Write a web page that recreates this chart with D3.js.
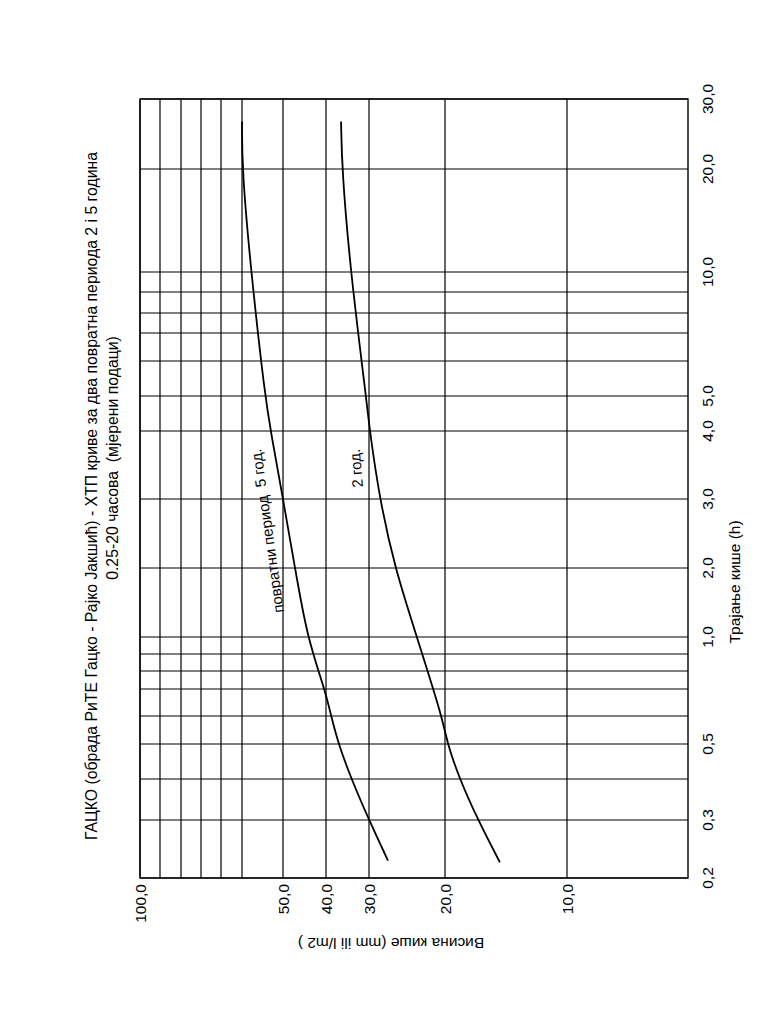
<!DOCTYPE html>
<html>
<head>
<meta charset="utf-8">
<script src="https://cdn.jsdelivr.net/npm/d3@7"></script>
<style>
  body { margin: 0; background: #fff; }
  text { font-family: "Liberation Sans", Arial, sans-serif; fill: #000; white-space: pre; }
</style>
</head>
<body>
<svg id="chart" width="768" height="1024"></svg>
<script>
// duration (h) and rain height (mm)
var durGrid = [0.2, 0.3, 0.4, 0.5, 0.6, 0.7, 0.8, 0.9, 1, 2, 3, 4, 5, 6, 7, 8, 9, 10, 20, 30];
var durTicks = [0.2, 0.3, 0.5, 1, 2, 3, 4, 5, 10, 20, 30];
var hGrid = [100, 90, 80, 70, 60, 55, 50, 40, 30, 20, 10];
var hTicks = [100, 50, 40, 30, 20, 10];

var dur5 = [0.23, 0.3, 0.4, 0.5, 0.6, 0.7, 1, 2, 3, 4, 5, 10, 20, 26.8];
var h5 = [27.5, 30, 34.1, 37.1, 38.8, 40.3, 44.4, 47.2, 50, 51.5, 52.2, 53.9, 55, 55];
var dur2 = [0.227, 0.3, 0.4, 0.5, 0.6, 1, 2, 3, 4, 5, 10, 20, 26.8];
var h2 = [15.5, 17.3, 18.8, 19.8, 20.4, 23.7, 26.6, 28.6, 29.9, 30.7, 34.3, 36.3, 36.5];

var svg = d3.select('#chart');
var fmt = function(v) { return d3.format('.1f')(v).replace('.', ','); };

// the sheet is printed sideways: duration runs up the page, height runs right-to-left
var yDur = d3.scaleLinear()
  .domain([0.2, 0.3, 0.4, 0.5, 0.6, 0.7, 0.8, 0.9, 1, 2, 3, 4, 5, 6, 7, 8, 9, 10, 20, 30])
  .range([878, 820, 779, 744, 716, 689, 671, 654, 637, 568, 499, 431, 396, 361, 333, 313, 292, 272, 169, 99]);
var xH = d3.scaleLinear()
  .domain([5, 10, 20, 30, 40, 50, 55, 60, 70, 80, 90, 100])
  .range([688, 567, 445, 369, 326, 283, 242, 221, 201, 181, 160, 140]);

var x0 = xH(100), x1 = xH(5), y0 = yDur(30), y1 = yDur(0.2);

svg.append('g').selectAll('line.h').data(durGrid).join('line')
  .attr('x1', x0).attr('x2', x1)
  .attr('y1', d => yDur(d)).attr('y2', d => yDur(d))
  .attr('stroke', '#000').attr('stroke-width', 1.2);
svg.append('g').selectAll('line.v').data(hGrid).join('line')
  .attr('y1', y0).attr('y2', y1)
  .attr('x1', d => xH(d)).attr('x2', d => xH(d))
  .attr('stroke', '#000').attr('stroke-width', 1.2);
svg.append('rect').attr('x', x0).attr('y', y0).attr('width', x1 - x0).attr('height', y1 - y0)
  .attr('fill', 'none').attr('stroke', '#000').attr('stroke-width', 1.4);

var line = d3.line().curve(d3.curveBasis);
function drawCurve(ds, hs) {
  svg.append('path')
    .attr('d', line(ds.map((d, i) => [xH(hs[i]), yDur(d)])))
    .attr('fill', 'none').attr('stroke', '#000').attr('stroke-width', 1.8);
}
drawCurve(dur5, h5);
drawCurve(dur2, h2);

function vtext(x, y, s, size, anchor, rot) {
  return svg.append('text')
    .attr('transform', 'translate(' + x + ',' + y + ') rotate(' + (rot === undefined ? -90 : rot) + ')')
    .attr('text-anchor', anchor || 'middle')
    .style('font-size', size + 'px').text(s);
}

// duration tick labels
durTicks.forEach(d => vtext(713, yDur(d), fmt(d), 15.5, 'middle'));
vtext(740, 582, 'Трајање кише (h)', 15.5);

// height tick labels
hTicks.forEach(v => vtext(xH(v) + 6, 884, fmt(v), 15.5, 'end'));
svg.append('text')
  .attr('transform', 'translate(' + 391 + ',' + 938 + ') rotate(180)')
  .attr('text-anchor', 'middle').style('font-size', 15.5 + 'px')
  .text('Висина кише (mm ili l/m2 )');

// title
vtext(97, 496, 'ГАЦКО (обрада РиТЕ Гацко - Рајко Јакшић) - ХТП криве за два повратна периода 2 і 5 година', 15.8);
vtext(118, 458, '0.25-20 часова  (мјерени подаци)', 15.8);

// curve labels
vtext(284, 612, 'повратни период  5 год.', 15, 'start', -98);
vtext(363, 487, '2 год.', 15, 'start', -95);
</script>
</body>
</html>
